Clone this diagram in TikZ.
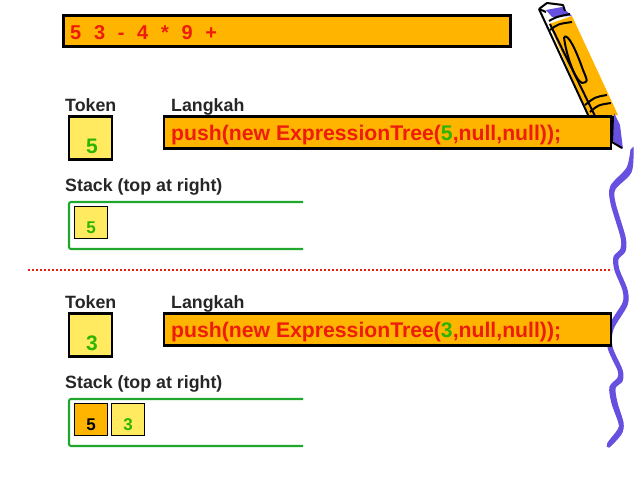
\documentclass[tikz,border=0pt]{standalone}
\usepackage{fontspec}
\setmainfont{Liberation Sans}
\definecolor{boxorange}{HTML}{FFB400}
\definecolor{boxyellow}{HTML}{FFEA60}
\definecolor{numgreen}{HTML}{2DB400}
\definecolor{linegreen}{HTML}{1FA82D}
\definecolor{codered}{HTML}{EE1C0A}
\definecolor{inkblue}{HTML}{6650E0}
\tikzset{
  tokenbox/.style={draw=black,line width=2.4pt,fill=boxyellow,minimum width=43pt,minimum height=43pt,inner sep=0pt},
  stepbox/.style={draw=black,line width=2.4pt,fill=boxorange,minimum width=447pt,minimum height=32pt,inner sep=0pt},
  stackbox/.style={draw=black,line width=1pt,minimum width=33pt,minimum height=32pt,inner sep=0pt},
  headtext/.style={font=\bfseries\fontsize{17.8}{19}\selectfont,text=black!85,anchor=base west,inner sep=0pt},
  codetext/.style={font=\bfseries\fontsize{21.2}{23}\selectfont,text=codered,anchor=base west,inner sep=0pt},
  tokennum/.style={font=\bfseries\fontsize{21}{22}\selectfont,text=numgreen,inner sep=0pt},
  stacknum/.style={font=\bfseries\fontsize{17}{18}\selectfont,inner sep=0pt},
  bracket/.style={draw=linegreen,line width=2.1pt,rounded corners=2pt},
  pencilline/.style={line width=2pt,line join=round},
}
\begin{document}
\begin{tikzpicture}[x=1pt,y=-1pt]
\useasboundingbox (0,0) rectangle (638,478);
% pencil
\fill[boxorange] (549,24) -- (572,16) -- (618,115) -- (590,120) -- cycle;
\fill[inkblue] (546,10) -- (562,7) -- (572,16) -- (552,17) -- cycle;
\fill[inkblue] (614,113) -- (620,125) -- (623,149) -- (612,140) -- cycle;
\draw[pencilline] (539,9) -- (547,3) -- (563,5) -- (565,11);
\draw[pencilline] (539,9) -- (589,117);
\draw[pencilline] (550,24) -- (596,118);
\draw[pencilline] (539,9) -- (546,12);
\draw[pencilline] (549,21) .. controls (556,17) .. (570,14);
\draw[pencilline] (550,30) .. controls (558,24) .. (572,22);
\draw[pencilline] (585,105) .. controls (595,97) .. (607,95);
\draw[pencilline] (590,112) .. controls (598,105) .. (611,103);
\draw[pencilline] (564,37) .. controls (568,33) and (576,50) .. (583,70) .. controls (588,82) .. (582,83) .. controls (575,80) and (566,55) .. (564,37);
\draw[pencilline] (613,116) -- (612,142) -- (622,148);
% ink line on the right
\filldraw[inkblue,line width=1.2pt] plot[smooth] coordinates {(633,148) (631,172) (615,189) (615,203) (625,237) (625,251) (618,259) (619,270) (627,290) (627,305) (613,329) (612,347) (622,370) (622,381) (615,388) (617,403) (623,423) (621,434) (609,447)
 (608,443) (618,430) (619,423) (612,403) (610,387) (618,378) (618,370) (608,347) (610,325) (623,303) (623,290) (615,270) (614,257) (621,249) (621,237) (611,203) (611,186) (627,168) (631,150)} -- cycle;
% expression
\node[draw=black,line width=2.4pt,fill=boxorange,minimum width=447pt,minimum height=31pt,inner sep=0pt] (expr) at (287,31) {};
\node[codetext,font=\bfseries\fontsize{20}{22}\selectfont] (exprtext) at (70,40) {5\hspace{12.7pt}3\hspace{12.7pt}-\hspace{12.7pt}4\hspace{12.7pt}*\hspace{12.7pt}9\hspace{12.7pt}+};
% first step
\node[headtext] (token1) at (65,112) {Token};
\node[headtext] (step1) at (171,112) {Langkah};
\node[tokenbox] (tokbox1) at (90.5,138) {};
\node[tokennum] (toknum1) at (92,146) {5};
\node[stepbox] (stepbox1) at (387.5,132.5) {};
\node[codetext] (code1) at (171,141) {push(new ExpressionTree(\textcolor{numgreen}{5},null,null));};
\node[headtext] (stack1) at (65,192) {Stack (top at right)};
\coordinate (br1a) at (303,202);
\coordinate (br1b) at (69,202);
\coordinate (br1c) at (69,249);
\coordinate (br1d) at (303,249);
\draw[bracket] (br1a) -- (br1b) -- (br1c) -- (br1d);
\node[stackbox,fill=boxyellow] (cell1) at (90.5,223) {};
\node[stacknum,text=numgreen] (cellnum1) at (91,228) {5};
% separator
\coordinate (sepa) at (28,270);
\coordinate (sepb) at (612,270);
\draw[codered,line width=2.6pt,dash pattern=on 2pt off 2pt] (sepa) -- (sepb);
% second step
\node[headtext] (token2) at (65,309) {Token};
\node[headtext] (step2) at (171,309) {Langkah};
\node[tokenbox] (tokbox2) at (90.5,335) {};
\node[tokennum] (toknum2) at (92,343) {3};
\node[stepbox] (stepbox2) at (387.5,329.5) {};
\node[codetext] (code2) at (171,338) {push(new ExpressionTree(\textcolor{numgreen}{3},null,null));};
\node[headtext] (stack2) at (65,389) {Stack (top at right)};
\coordinate (br2a) at (303,399);
\coordinate (br2b) at (69,399);
\coordinate (br2c) at (69,446);
\coordinate (br2d) at (303,446);
\draw[bracket] (br2a) -- (br2b) -- (br2c) -- (br2d);
\node[stackbox,fill=boxorange] (cell2) at (90.5,420) {};
\node[stacknum,text=black] (cellnum2) at (91,425) {5};
\node[stackbox,fill=boxyellow] (cell3) at (127.5,420) {};
\node[stacknum,text=numgreen] (cellnum3) at (128,425) {3};
\end{tikzpicture}
\end{document}
